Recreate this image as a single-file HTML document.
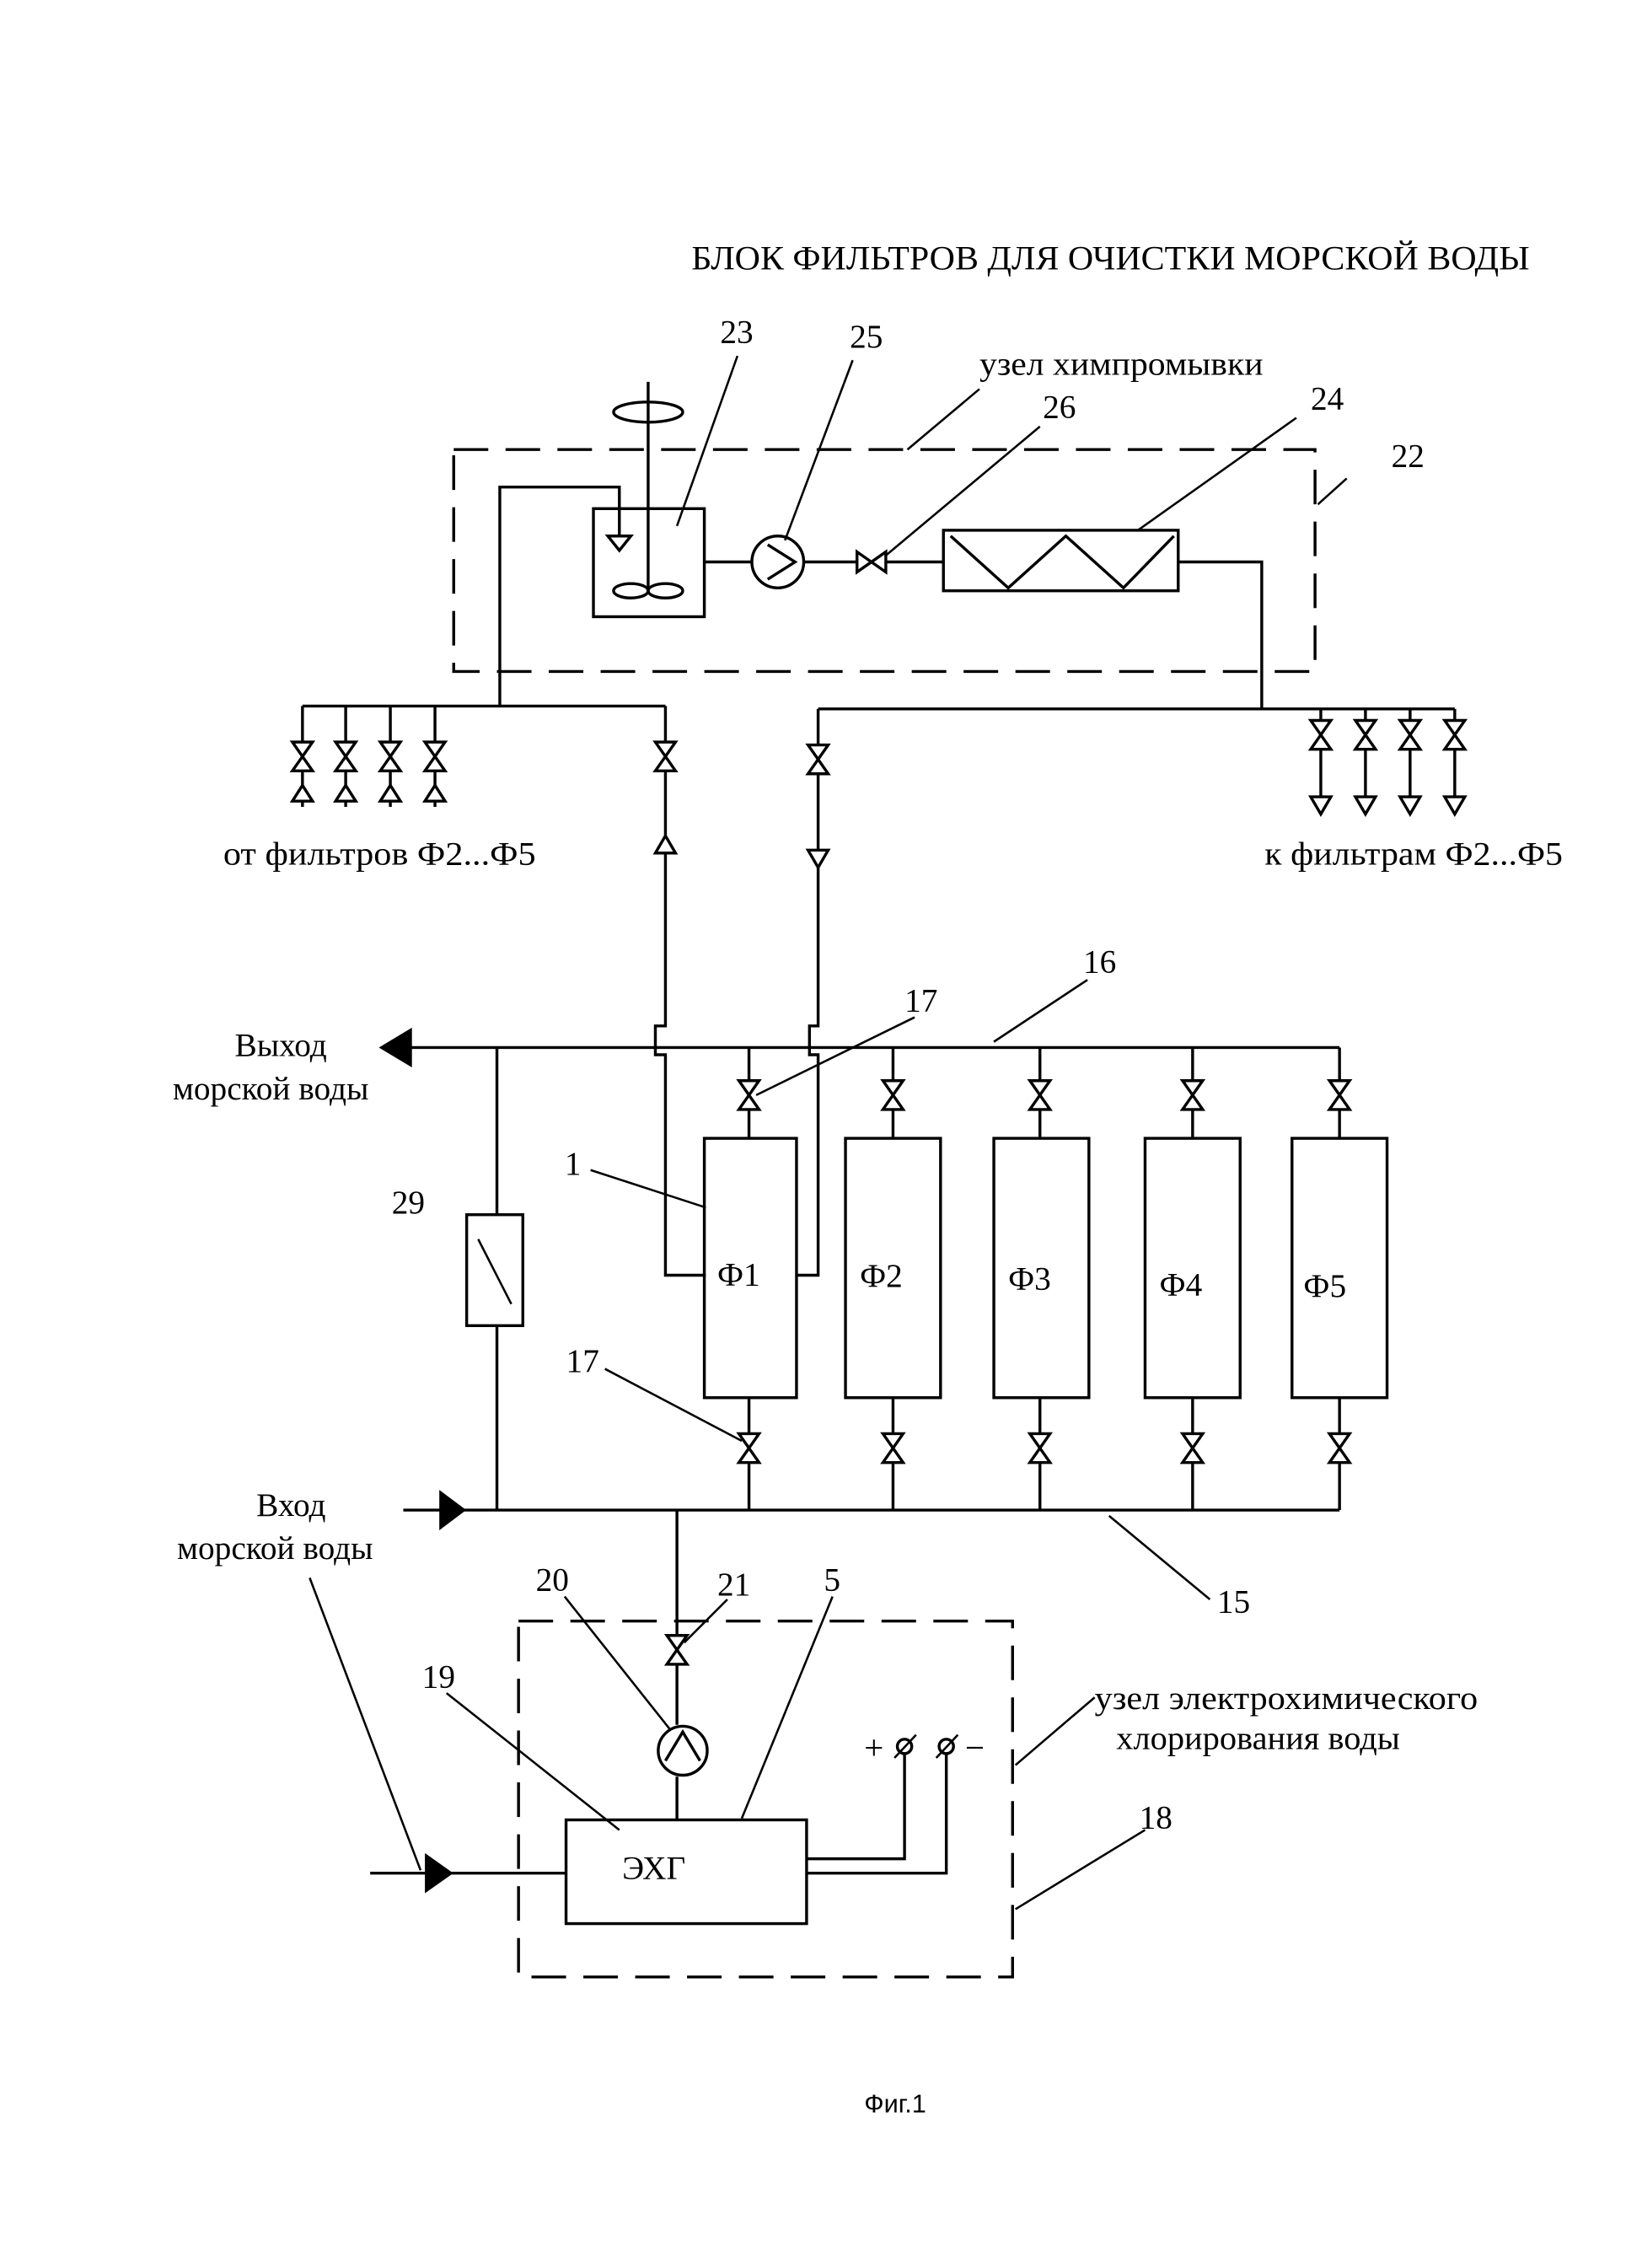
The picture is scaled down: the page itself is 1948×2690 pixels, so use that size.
<!DOCTYPE html>
<html><head><meta charset="utf-8"><style>html,body{margin:0;padding:0;background:#fff}svg{display:block}</style></head><body>
<svg width="1948" height="2690" viewBox="0 0 1140 1574" preserveAspectRatio="none" xmlns="http://www.w3.org/2000/svg" font-family="Liberation Serif, serif" fill="none" stroke="#000" stroke-width="2">
<defs>
<g id="v"><path d="M-7,-10 L7,-10 L-7,10 L7,10 Z" fill="#fff"/></g>
<g id="vh"><path d="M-10,-7 L-10,7 L10,-7 L10,7 Z" fill="#fff"/></g>
</defs>
<!-- dashed boxes -->
<rect x="315" y="312" width="598" height="154" stroke-dasharray="24,12"/>
<rect x="360" y="1125" width="343" height="247" stroke-dasharray="24,12"/>
<!-- leaders -->
<path d="M512,247 L470,365 M592,250 L545,375 M722,296 L612,388 M900,290 L790,368 M935,332 L915,350 M680,270 L630,312 M410,812 L490,838 M635,706 L525,760 M755,680 L690,723 M420,950 L515,1000 M840,1110 L770,1052 M392,1108 L465,1200 M505,1110 L475,1140 M578,1108 L515,1262 M310,1175 L430,1270 M795,1270 L705,1325 M760,1178 L705,1225 M215,1095 L292,1298" stroke-width="1.5"/>
<!-- tank -->
<rect x="412" y="353" width="77" height="75"/>
<path d="M450,265 L450,410"/>
<ellipse cx="450" cy="286" rx="24" ry="7"/>
<ellipse cx="438" cy="410" rx="12" ry="5"/><ellipse cx="462" cy="410" rx="12" ry="5"/>
<path d="M422,372 L438,372 L430,382 Z"/>
<path d="M347,490 L347,338 L430,338 L430,372"/>
<path d="M489,390 L522,390"/>
<circle cx="540" cy="390" r="18"/><path d="M533,378 L552,390 L533,402"/>
<path d="M558,390 L818,390 M818,390 L876,390 L876,492"/>
<use href="#vh" x="605" y="390"/>
<rect x="655" y="368" width="163" height="42" fill="#fff"/>
<path d="M660,372 L700,408 L740,372 L780,408 L815,372"/>
<!-- left header -->
<path d="M210,490 L462,490 M210,490 L210,560 M240,490 L240,560 M271,490 L271,560 M302,490 L302,560"/>
<g><use href="#v" x="210" y="525"/><use href="#v" x="240" y="525"/><use href="#v" x="271" y="525"/><use href="#v" x="302" y="525"/></g>
<path d="M203,556 L217,556 L210,545 Z M233,556 L247,556 L240,545 Z M264,556 L278,556 L271,545 Z M295,556 L309,556 L302,545 Z" fill="#fff"/>
<path d="M462,490 L462,712 L455,712 L455,732 L462,732 L462,885 L490,885"/>
<use href="#v" x="462" y="525"/>
<path d="M455,592 L469,592 L462,580 Z" fill="#fff"/>
<!-- right header -->
<path d="M568,492 L1010,492 M917,492 L917,565 M948,492 L948,565 M979,492 L979,565 M1010,492 L1010,565"/>
<g><use href="#v" x="917" y="510"/><use href="#v" x="948" y="510"/><use href="#v" x="979" y="510"/><use href="#v" x="1010" y="510"/></g>
<path d="M910,553 L924,553 L917,565 Z M941,553 L955,553 L948,565 Z M972,553 L986,553 L979,565 Z M1003,553 L1017,553 L1010,565 Z" fill="#fff"/>
<path d="M568,492 L568,712 L562,712 L562,732 L568,732 L568,885 L553,885"/>
<use href="#v" x="568" y="527"/>
<path d="M561,590 L575,590 L568,602 Z" fill="#fff"/>
<!-- outlet header -->
<path d="M280,727 L930,727"/>
<path d="M265,727 L285,715 L285,739 Z" fill="#000"/>
<path d="M345,727 L345,1048 M280,1048 L930,1048"/>
<path d="M322,1048 L306,1036 L306,1060 Z" fill="#000"/>
<rect x="324" y="843" width="39" height="77" fill="#fff"/><path d="M332,860 L355,905" stroke-width="1.5"/>
<g>
<path d="M520,727 L520,790 M620,727 L620,790 M722,727 L722,790 M828,727 L828,790 M930,727 L930,790"/>
<path d="M520,970 L520,1048 M620,970 L620,1048 M722,970 L722,1048 M828,970 L828,1048 M930,970 L930,1048"/>
<use href="#v" x="520" y="760"/><use href="#v" x="620" y="760"/><use href="#v" x="722" y="760"/><use href="#v" x="828" y="760"/><use href="#v" x="930" y="760"/>
<use href="#v" x="520" y="1005"/><use href="#v" x="620" y="1005"/><use href="#v" x="722" y="1005"/><use href="#v" x="828" y="1005"/><use href="#v" x="930" y="1005"/>
</g>
<rect x="489" y="790" width="64" height="180"/>
<rect x="587" y="790" width="66" height="180"/>
<rect x="690" y="790" width="66" height="180"/>
<rect x="795" y="790" width="66" height="180"/>
<rect x="897" y="790" width="66" height="180"/>
<!-- electrochemical -->
<path d="M470,1048 L470,1197 M470,1233 L470,1263"/>
<use href="#v" x="470" y="1145"/>
<circle cx="474" cy="1215" r="17"/><path d="M462,1222 L474,1202 L486,1222"/>
<rect x="393" y="1263" width="167" height="72"/>
<path d="M560,1290 L628,1290 L628,1215 M560,1300 L657,1300 L657,1215"/>
<circle cx="628" cy="1212" r="5" fill="#fff"/><circle cx="657" cy="1212" r="5" fill="#fff"/>
<path d="M621,1220 L636,1204 M650,1220 L665,1204" stroke-width="1.5"/>
<path d="M257,1300 L393,1300"/>
<path d="M313,1300 L296,1288 L296,1312 Z" fill="#000"/>
<g fill="#000" stroke="none" font-size="23">
<text x="480" y="187" font-size="23.5" textLength="582" lengthAdjust="spacingAndGlyphs">БЛОК ФИЛЬТРОВ ДЛЯ ОЧИСТКИ МОРСКОЙ ВОДЫ</text>
<text x="680" y="260" textLength="197" lengthAdjust="spacingAndGlyphs">узел химпромывки</text>
<text x="500" y="238">23</text><text x="590" y="241">25</text><text x="724" y="290">26</text>
<text x="910" y="284">24</text><text x="966" y="324">22</text>
<text x="155" y="600" textLength="217" lengthAdjust="spacingAndGlyphs">от фильтров  Ф2...Ф5</text>
<text x="878" y="600" textLength="207" lengthAdjust="spacingAndGlyphs">к фильтрам  Ф2...Ф5</text>
<text x="163" y="733">Выход</text><text x="120" y="763">морской воды</text>
<text x="178" y="1052">Вход</text><text x="123" y="1082">морской воды</text>
<text x="272" y="842">29</text><text x="392" y="815">1</text><text x="628" y="702">17</text>
<text x="752" y="675">16</text><text x="393" y="952">17</text><text x="845" y="1119">15</text>
<text x="498" y="892">Ф1</text><text x="597" y="893">Ф2</text><text x="700" y="895">Ф3</text><text x="805" y="899">Ф4</text><text x="905" y="900">Ф5</text>
<text x="372" y="1104">20</text><text x="498" y="1107">21</text><text x="572" y="1104">5</text>
<text x="293" y="1171">19</text><text x="791" y="1269">18</text>
<text x="760" y="1186" textLength="266" lengthAdjust="spacingAndGlyphs">узел электрохимического</text>
<text x="775" y="1214" textLength="197" lengthAdjust="spacingAndGlyphs">хлорирования воды</text>
<text x="432" y="1304">ЭХГ</text>
<text x="600" y="1221" font-size="24">+</text><text x="670" y="1221" font-size="24">−</text>
<text x="600" y="1466" font-size="18" font-family="Liberation Sans, sans-serif">Фиг.1</text>
</g>
</svg>
</body></html>
